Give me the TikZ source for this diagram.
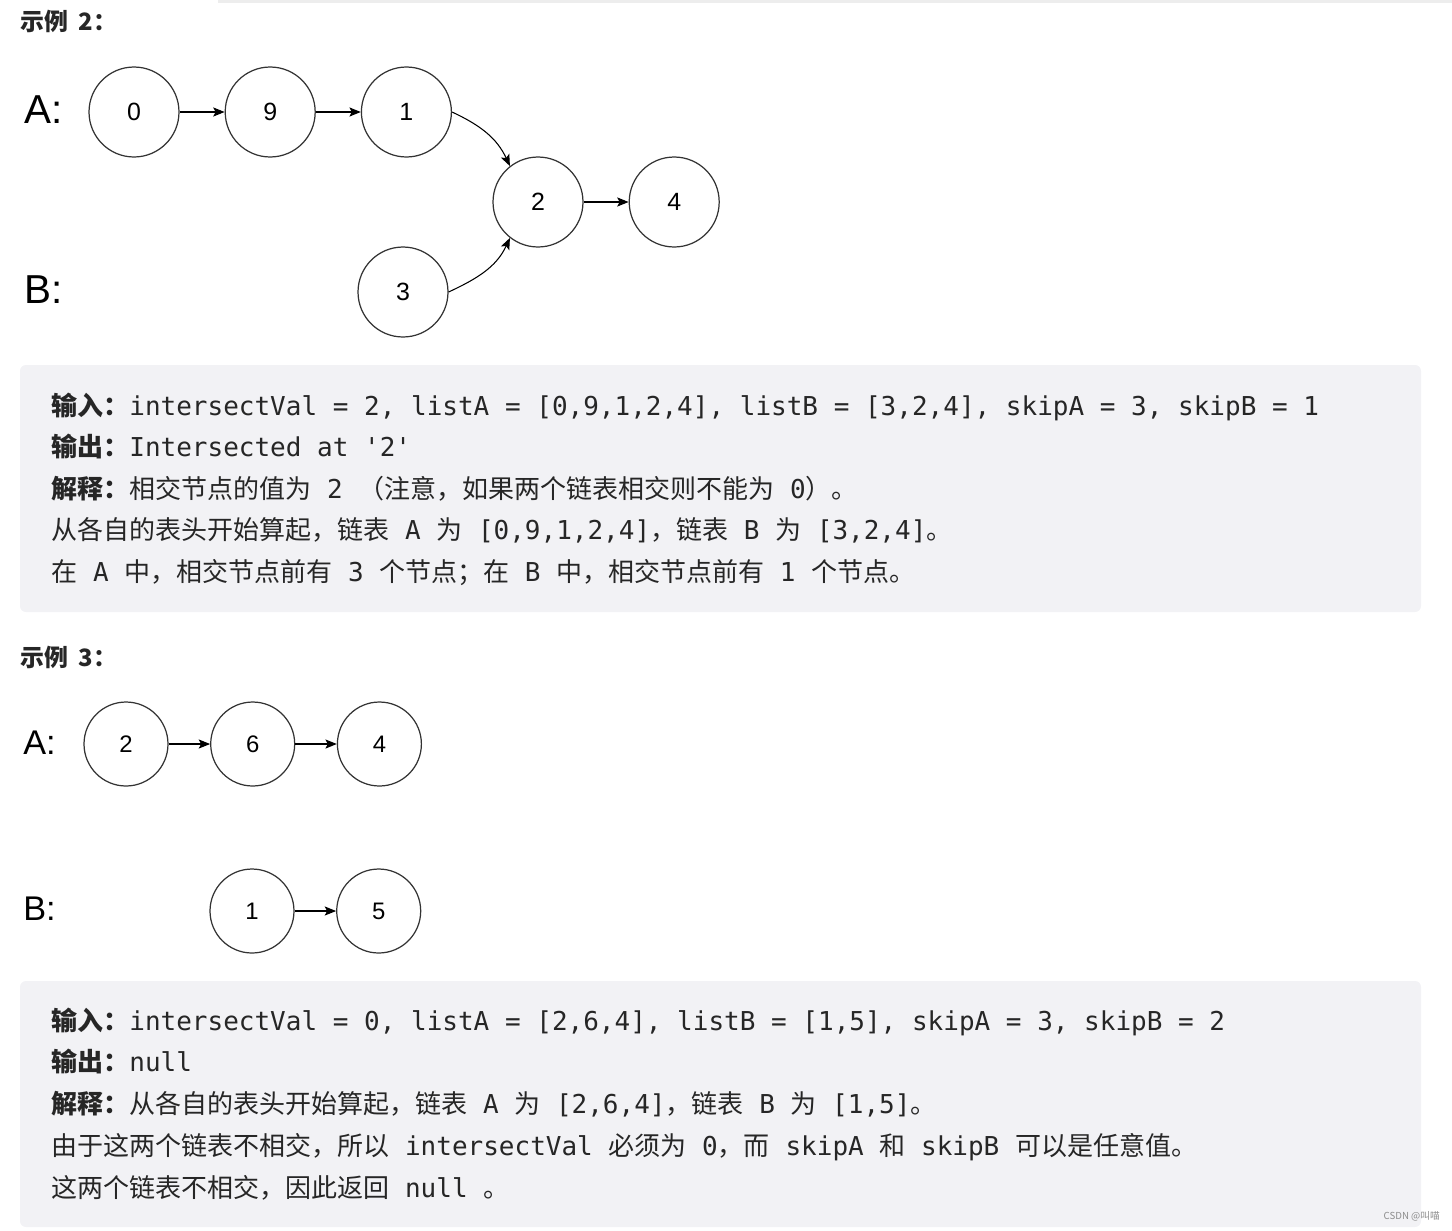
\documentclass[tikz,border=0pt]{standalone}
\usepackage{fontspec}
\setmainfont{Noto Sans CJK SC}
\setmonofont{DejaVu Sans Mono}
\newfontfamily\labelfont{Liberation Sans}
\usetikzlibrary{arrows.meta,positioning}
\definecolor{boxgray}{HTML}{F2F2F5}
\definecolor{txt}{HTML}{262626}

\begin{document}
\begin{tikzpicture}[x=0.02cm, y=-0.02cm, >={Stealth[length=6.5pt,width=5.2pt,inset=1.4pt]},
  listnode/.style={circle,draw=black!80,line width=0.7pt,minimum size=1.8cm,inner sep=0pt,font=\labelfont\fontsize{14.2}{16}\selectfont},
  smallnode/.style={listnode,minimum size=1.68cm,font=\labelfont\fontsize{13.6}{16}\selectfont},
  listname/.style={anchor=west,inner sep=0pt,font=\labelfont\fontsize{23}{26}\selectfont},
  heading/.style={anchor=base west,inner sep=0pt,text=txt,font=\bfseries\fontsize{13.6}{16}\selectfont},
  codebox/.style={fill=boxgray,rounded corners=3.4pt},
  codeline/.style={anchor=base west,inner sep=0pt,text=txt,font=\fontsize{14.8}{17}\selectfont},
  link/.style={->,line width=0.6pt,black}]
\useasboundingbox (0,0) rectangle (1452,1230);
\draw[black!7, line width=1.7pt] (218,1.5) -- (1452,1.5);

% example 2
\node[heading] (h2) at (20,31) {示例\hspace{6pt}2：};
\node[listname] (la2) at (24,110) {A:};
\node[listname] (lb2) at (24,290) {B:};
\node[listnode] (a0) at (134,112) {0};
\node[listnode,right=0.9cm of a0] (a9) {9};
\node[listnode,right=0.9cm of a9] (a1) {1};
\node[listnode] (c2) at (538,202) {2};
\node[listnode,right=0.9cm of c2] (c4) {4};
\node[listnode] (b3) at (403,292) {3};
\draw[link] (a0) -- (a9);
\draw[link] (a9) -- (a1);
\draw[link] (c2) -- (c4);
\draw[link] (a1.east) to[out=-25,in=115] (c2.128);
\draw[link] (b3.east) to[out=25,in=-115] (c2.-128);

\fill[codebox] (20,365) rectangle (1421,612);
\node[codeline] (t21) at (51,415) {\textbf{输入：}\texttt{intersectVal = 2, listA = [0,9,1,2,4], listB = [3,2,4], skipA = 3, skipB = 1}};
\node[codeline] (t22) at (51,456) {\textbf{输出：}\texttt{Intersected at '2'}};
\node[codeline] (t23) at (51,498) {\textbf{解释：}相交节点的值为\texttt{ 2 }（注意，如果两个链表相交则不能为\texttt{ 0}）。};
\node[codeline] (t24) at (51,539) {从各自的表头开始算起，链表\texttt{ A }为\texttt{ [0,9,1,2,4]}，链表\texttt{ B }为\texttt{ [3,2,4]}。};
\node[codeline] (t25) at (51,581) {在\texttt{ A }中，相交节点前有\texttt{ 3 }个节点；在\texttt{ B }中，相交节点前有\texttt{ 1 }个节点。};

% example 3
\node[heading] (h3) at (20,666) {示例\hspace{6pt}3：};
\node[listname,font=\labelfont\fontsize{19.5}{22}\selectfont] (la3) at (23,743) {A:};
\node[listname,font=\labelfont\fontsize{19.5}{22}\selectfont] (lb3) at (23,909) {B:};
\node[smallnode] (p2) at (126,744) {2};
\node[smallnode,right=0.83cm of p2] (p6) {6};
\node[smallnode,right=0.83cm of p6] (p4) {4};
\node[smallnode] (q1) at (252,911) {1};
\node[smallnode,right=0.83cm of q1] (q5) {5};
\draw[link] (p2) -- (p6);
\draw[link] (p6) -- (p4);
\draw[link] (q1) -- (q5);

\fill[codebox] (20,981) rectangle (1421,1227);
\node[codeline] (t31) at (51,1030) {\textbf{输入：}\texttt{intersectVal = 0, listA = [2,6,4], listB = [1,5], skipA = 3, skipB = 2}};
\node[codeline] (t32) at (51,1071) {\textbf{输出：}\texttt{null}};
\node[codeline] (t33) at (51,1113) {\textbf{解释：}从各自的表头开始算起，链表\texttt{ A }为\texttt{ [2,6,4]}，链表\texttt{ B }为\texttt{ [1,5]}。};
\node[codeline] (t34) at (51,1155) {由于这两个链表不相交，所以\texttt{ intersectVal }必须为\texttt{ 0}，而\texttt{ skipA }和\texttt{ skipB }可以是任意值。};
\node[codeline] (t35) at (51,1197) {这两个链表不相交，因此返回\texttt{ null }。};

\node[anchor=east,inner sep=0pt,text=black!45,font=\fontsize{5.5}{6}\selectfont] (mark) at (1440,1216) {CSDN @叫喵};
\end{tikzpicture}
\end{document}
